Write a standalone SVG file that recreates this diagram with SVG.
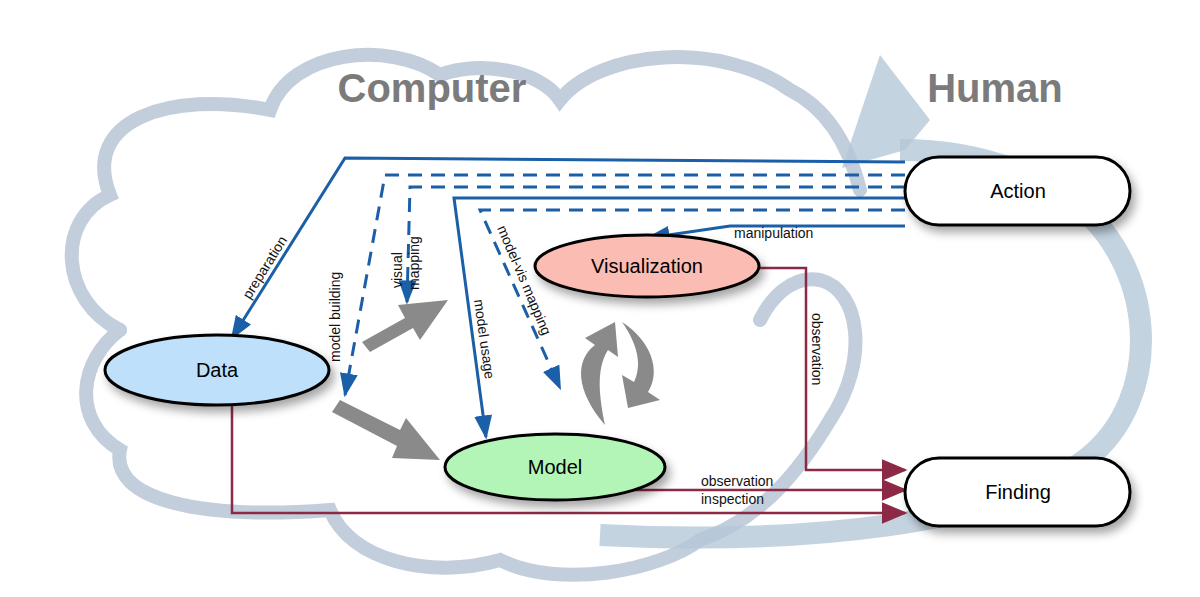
<svg xmlns="http://www.w3.org/2000/svg" width="1200" height="597" viewBox="0 0 1200 597">
<defs>
<style>
.cloud{fill:none;stroke:#c3cedd;stroke-width:14;stroke-linecap:round}
.blue{fill:none;stroke:#1a5fa8;stroke-width:3}
.dash{stroke-dasharray:14 9}
.red{fill:none;stroke:#8c2a45;stroke-width:2.5}
.lbl{font-family:"Liberation Sans",Arial,sans-serif;font-size:14px;fill:#111}
.nt{font-family:"Liberation Sans",Arial,sans-serif;font-size:20px;fill:#000;text-anchor:middle}
.big{font-family:"Liberation Sans",Arial,sans-serif;font-size:40px;font-weight:bold;fill:#7b7b7b;text-anchor:middle}
.node{stroke:#000;stroke-width:3}
</style>
<marker id="ab" viewBox="0 0 10 10" refX="9" refY="5" markerWidth="24" markerHeight="18" markerUnits="userSpaceOnUse" orient="auto" preserveAspectRatio="none"><path d="M0,0L10,5L0,10z" fill="#1a5fa8"/></marker>
<marker id="ar" viewBox="0 0 10 10" refX="9" refY="5" markerWidth="26" markerHeight="22" markerUnits="userSpaceOnUse" orient="auto" preserveAspectRatio="none"><path d="M0,0L10,5L0,10z" fill="#8c2a45"/></marker>
<filter id="sh" x="-20%" y="-20%" width="150%" height="160%"><feDropShadow dx="4" dy="6" stdDeviation="5" flood-opacity="0.35"/></filter>
</defs>
<rect width="1200" height="597" fill="#fff"/>
<g id="cloud">
<path class="cloud" d="M120,330 C60,300 55,220 110,195 C80,120 170,90 270,110 C290,50 390,40 440,75 C480,60 540,70 560,100 C600,50 720,40 790,90 C830,110 850,150 860,190"/>
<path class="cloud" d="M120,330 C80,360 70,420 120,450 C110,500 200,520 330,510 C350,560 430,580 500,560 C560,590 660,570 700,540 C760,520 800,470 830,420 C870,360 860,290 820,280 C790,275 770,300 760,320"/>
<path d="M600,535 C800,545 1000,525 1085,460 C1165,400 1160,260 1065,195 C1010,160 950,150 900,150" fill="none" stroke="#b4c8d8" stroke-width="22" opacity="0.8"/>
<path d="M880,55 L930,120 L905,150 L842,168 Z" fill="#b4c8d8" opacity="0.8"/>
</g>
<text class="big" x="432" y="102">Computer</text>
<text class="big" x="995" y="102">Human</text>
<g id="grey" fill="#8a8a8a">
<path d="M362,342 L405,318 L398,305 L448,300 L420,340 L413,328 L370,352 Z"/>
<path d="M332,412 L340,400 L400,430 L406,418 L440,460 L392,458 L397,446 Z"/>
<path d="M605,425 C575,390 575,360 595,345 L585,338 L615,322 L618,357 L608,350 C595,370 600,400 605,425 Z"/>
<path d="M622,322 C650,340 662,370 648,392 L660,400 L628,408 L622,375 L634,382 C642,365 638,345 622,322 Z"/>
</g>
<g id="connectors">
<polyline class="blue" points="905,162 345,158 232,338" marker-end="url(#ab)"/>
<polyline class="blue dash" points="905,175 385,175 345,395" marker-end="url(#ab)"/>
<polyline class="blue dash" points="905,187 410,187 407,302" marker-end="url(#ab)"/>
<polyline class="blue" points="905,198 454,198 486,437" marker-end="url(#ab)"/>
<polyline class="blue dash" points="905,210 480,210 560,388" marker-end="url(#ab)"/>
<polyline class="blue" points="905,226 730,226 648,238" marker-end="url(#ab)"/>
<polyline class="red" points="760,268 806,268 806,470 905,470" marker-end="url(#ar)"/>
<polyline class="red" points="615,490 905,490" marker-end="url(#ar)"/>
<polyline class="red" points="232,400 232,513 905,513" marker-end="url(#ar)"/>
<text class="lbl" transform="translate(250,300) rotate(-58)">preparation</text>
<text class="lbl" transform="translate(340,362) rotate(-90)">model building</text>
<text class="lbl" transform="translate(402,288) rotate(-90)">visual</text>
<text class="lbl" transform="translate(419,290) rotate(-90)">mapping</text>
<text class="lbl" transform="translate(474,300) rotate(82)">model usage</text>
<text class="lbl" transform="translate(497,228) rotate(67)">model-vis mapping</text>
<text class="lbl" x="734" y="238">manipulation</text>
<text class="lbl" transform="translate(812,313) rotate(90)">observation</text>
<text class="lbl" x="701" y="486">observation</text>
<text class="lbl" x="701" y="504">inspection</text>
</g>
<g id="data"><ellipse class="node" cx="217" cy="370" rx="112" ry="35" fill="#bfe0fb" filter="url(#sh)"/><text class="nt" x="217" y="377" font-size="18">Data</text></g>
<g id="visualization"><ellipse class="node" cx="647" cy="266" rx="112" ry="31" fill="#fbbcb4" filter="url(#sh)"/><text class="nt" x="647" y="273">Visualization</text></g>
<g id="model"><ellipse class="node" cx="555" cy="467" rx="110" ry="33" fill="#b3f5b7" filter="url(#sh)"/><text class="nt" x="555" y="474">Model</text></g>
<g id="action"><rect class="node" x="905" y="157" width="225" height="68" rx="34" fill="#fff" filter="url(#sh)"/><text class="nt" x="1018" y="198" font-size="22">Action</text></g>
<g id="finding"><rect class="node" x="905" y="458" width="225" height="68" rx="34" fill="#fff" filter="url(#sh)"/><text class="nt" x="1018" y="499" font-size="22">Finding</text></g>
</svg>
